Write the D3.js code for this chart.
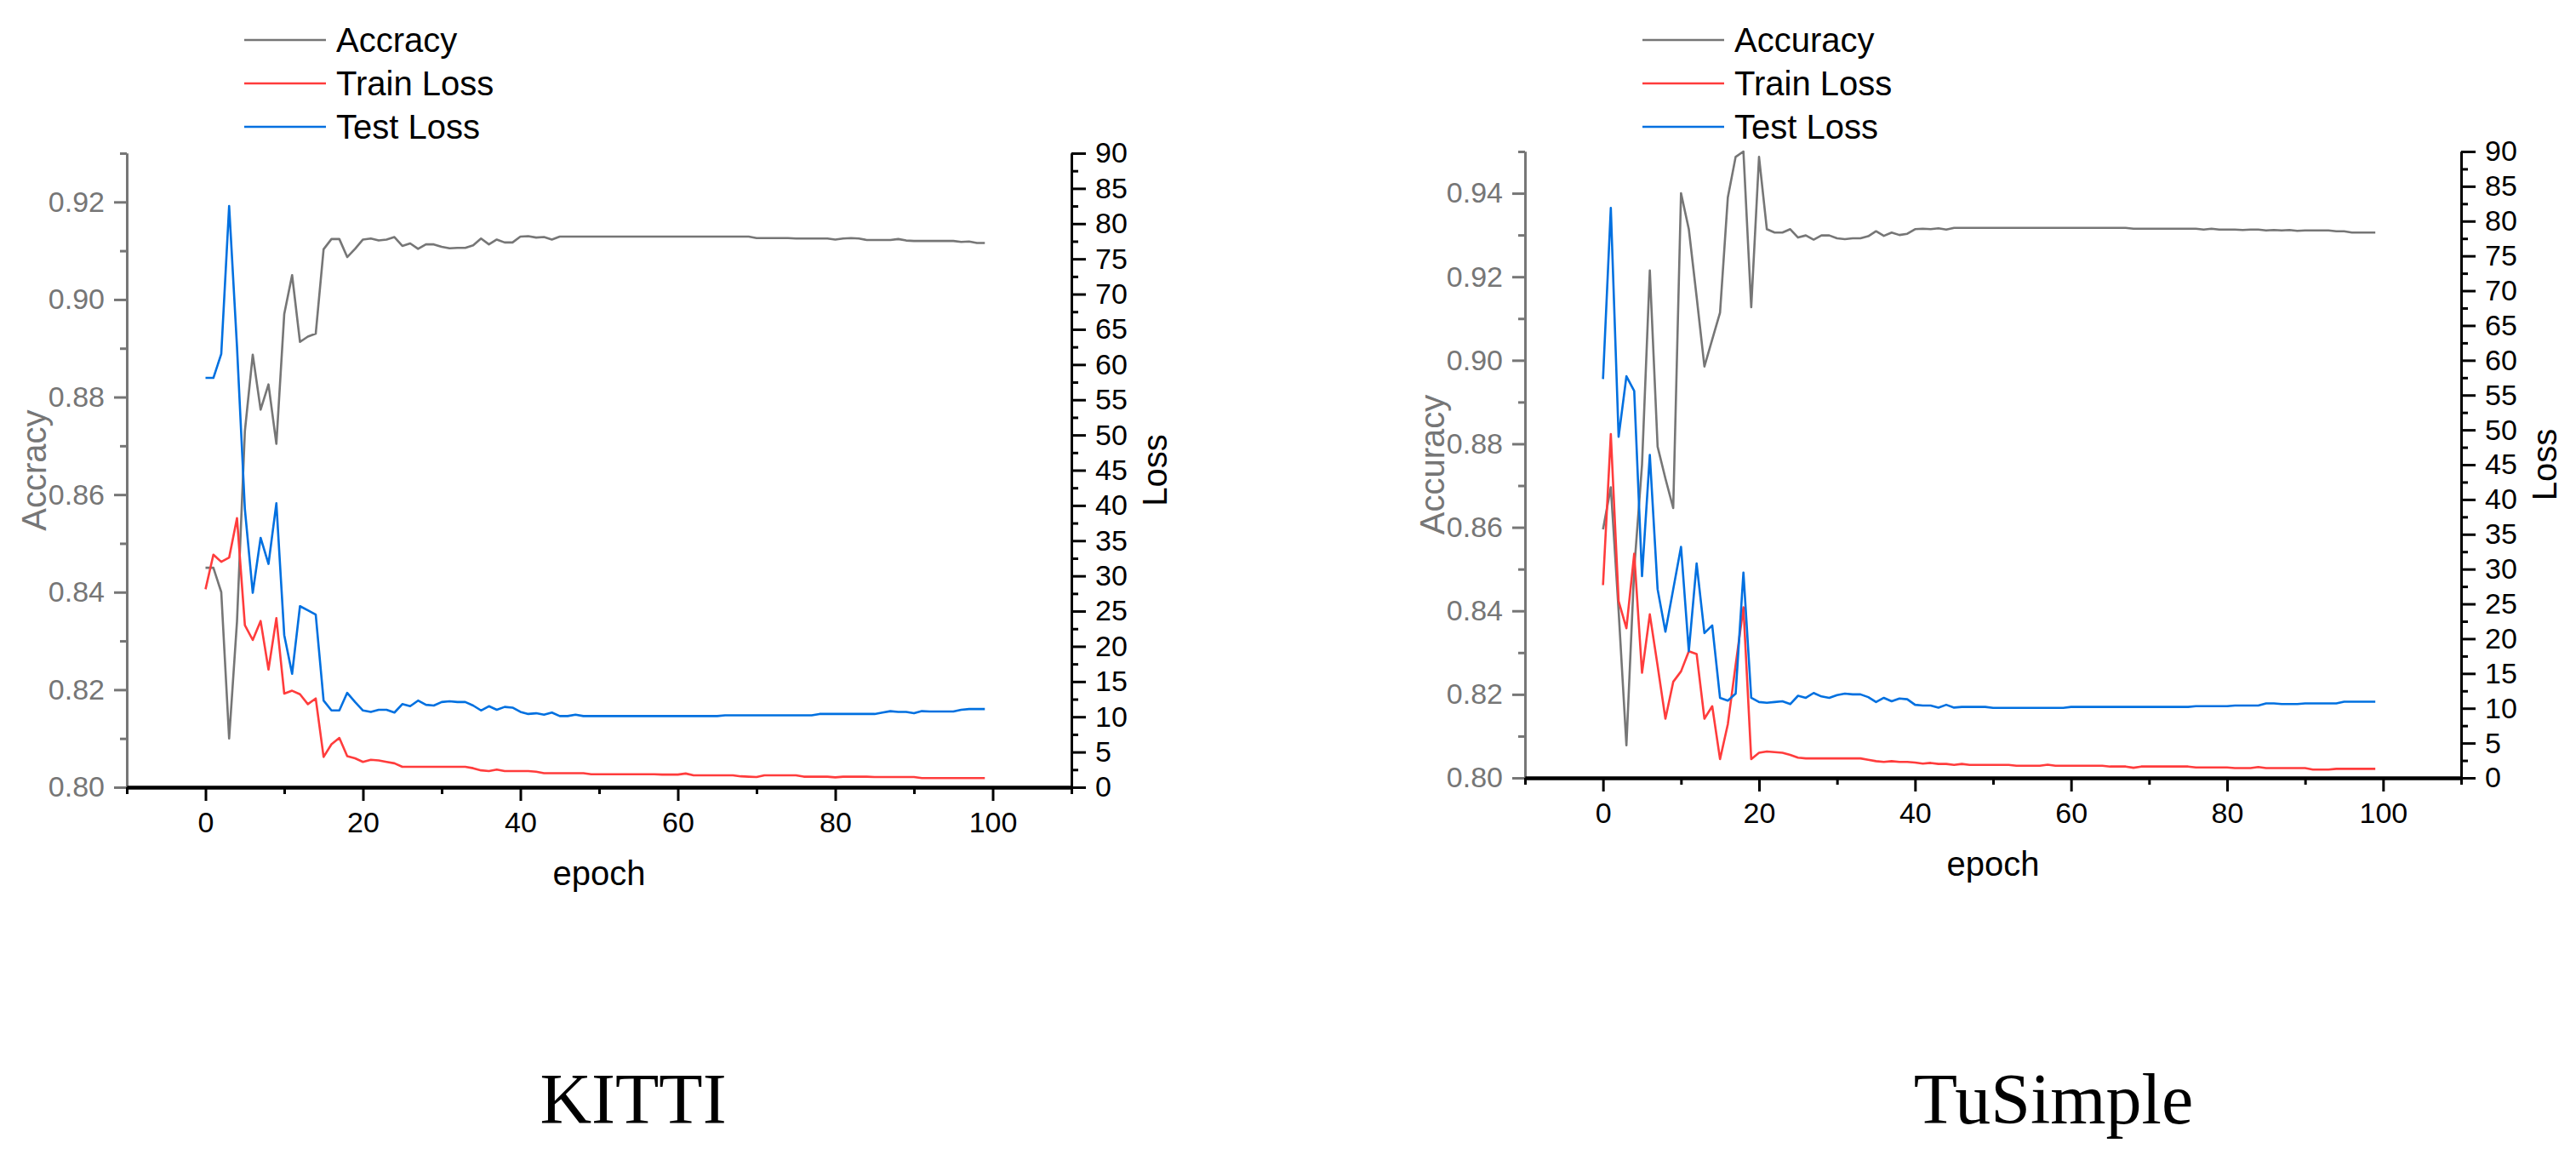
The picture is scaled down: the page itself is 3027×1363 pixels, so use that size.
<!DOCTYPE html>
<html>
<head>
<meta charset="utf-8">
<script src="https://cdn.jsdelivr.net/npm/d3@7"></script>
<style>
  html, body { margin: 0; padding: 0; background: #ffffff; }
  svg { display: block; }
</style>
</head>
<body>
<div id="chart"></div>
<script>
// ---------------- DATA ----------------
const epochs = d3.range(0, 100);

const kittiAccuracy = [
  0.845,0.845,0.840,0.810,0.834,0.873,0.8887,0.8774,0.8826,0.8704,
  0.897,0.905,0.8913,0.8924,0.893,0.9103,0.9124,0.9124,0.9087,0.9104,
  0.9123,0.9125,0.9121,0.9123,0.9128,0.9110,0.9115,0.9104,0.9113,0.9113,
  0.9108,0.9105,0.9106,0.9106,0.9111,0.9125,0.9113,0.9123,0.9117,0.9117,
  0.9129,0.9130,0.9127,0.9128,0.9123,0.9129,0.9129,0.9129,0.9129,0.9129,
  0.9129,0.9129,0.9129,0.9129,0.9129,0.9129,0.9129,0.9129,0.9129,0.9129,
  0.9129,0.9129,0.9129,0.9129,0.9129,0.9129,0.9129,0.9129,0.9129,0.9129,
  0.9126,0.9126,0.9126,0.9126,0.9126,0.9125,0.9125,0.9125,0.9125,0.9125,
  0.9123,0.9125,0.9126,0.9125,0.9122,0.9122,0.9122,0.9122,0.9124,0.9121,
  0.9120,0.9120,0.9120,0.9120,0.9120,0.9120,0.9118,0.9119,0.9116,0.9116
];
const kittiTrainLoss = [
  28.1,33.0,32.0,32.6,38.2,23.0,20.9,23.6,16.7,24.0,
  13.3,13.7,13.2,11.8,12.6,4.3,6.1,7.0,4.4,4.1,
  3.6,3.9,3.8,3.6,3.4,2.9,2.9,2.9,2.9,2.9,
  2.9,2.9,2.9,2.9,2.7,2.4,2.3,2.5,2.3,2.3,
  2.3,2.3,2.2,2.0,2.0,2.0,2.0,2.0,2.0,1.85,
  1.85,1.85,1.85,1.85,1.85,1.85,1.85,1.85,1.8,1.8,
  1.8,1.95,1.7,1.7,1.7,1.7,1.7,1.7,1.55,1.5,
  1.45,1.7,1.7,1.7,1.7,1.7,1.5,1.5,1.5,1.5,
  1.4,1.5,1.5,1.5,1.5,1.45,1.45,1.45,1.45,1.45,
  1.45,1.3,1.3,1.3,1.3,1.3,1.3,1.3,1.3,1.3
];
const kittiTestLoss = [
  58.1,58.1,61.5,82.5,62.5,39.5,27.6,35.4,31.7,40.3,
  21.6,16.1,25.7,25.1,24.5,12.3,10.9,10.9,13.4,12.1,
  10.9,10.7,11.0,11.0,10.6,11.8,11.5,12.3,11.7,11.6,
  12.1,12.2,12.1,12.1,11.6,10.9,11.5,11.0,11.4,11.3,
  10.7,10.4,10.5,10.3,10.6,10.1,10.1,10.3,10.1,10.1,
  10.1,10.1,10.1,10.1,10.1,10.1,10.1,10.1,10.1,10.1,
  10.1,10.1,10.1,10.1,10.1,10.1,10.2,10.2,10.2,10.2,
  10.2,10.2,10.2,10.2,10.2,10.2,10.2,10.2,10.4,10.4,
  10.4,10.4,10.4,10.4,10.4,10.4,10.6,10.8,10.7,10.7,
  10.5,10.8,10.75,10.75,10.75,10.75,11.0,11.1,11.1,11.1
];

const tusimpleAccuracy = [
  0.8595,0.8696,0.840,0.8078,0.850,0.875,0.9215,0.8793,0.8717,0.8646,
  0.940,0.9314,0.9152,0.8985,0.905,0.9114,0.939,0.9487,0.950,0.9127,
  0.9487,0.9314,0.9306,0.9306,0.9314,0.9294,0.9299,0.9289,0.9299,0.9299,
  0.9292,0.9290,0.9292,0.9292,0.9297,0.9309,0.9298,0.9306,0.9300,0.9303,
  0.9314,0.9315,0.9314,0.9316,0.9313,0.9317,0.9317,0.9317,0.9317,0.9317,
  0.9317,0.9317,0.9317,0.9317,0.9317,0.9317,0.9317,0.9317,0.9317,0.9317,
  0.9317,0.9317,0.9317,0.9317,0.9317,0.9317,0.9317,0.9317,0.9315,0.9315,
  0.9315,0.9315,0.9315,0.9315,0.9315,0.9315,0.9315,0.9313,0.9315,0.9313,
  0.9313,0.9313,0.9312,0.9313,0.9313,0.9311,0.9312,0.9311,0.9312,0.9310,
  0.9311,0.9311,0.9311,0.9311,0.9309,0.9309,0.9306,0.9306,0.9306,0.9306
];
const tusimpleTrainLoss = [
  27.7,49.4,25.4,21.5,32.2,15.1,23.5,16.1,8.5,13.8,
  15.3,18.2,17.8,8.5,10.3,2.7,7.7,16.2,24.5,2.7,
  3.6,3.8,3.7,3.6,3.3,2.9,2.8,2.8,2.8,2.8,
  2.8,2.8,2.8,2.8,2.6,2.4,2.3,2.4,2.3,2.3,
  2.2,2.05,2.15,2.0,2.0,1.87,2.0,1.87,1.87,1.87,
  1.87,1.87,1.87,1.75,1.75,1.75,1.75,1.9,1.75,1.75,
  1.75,1.75,1.75,1.75,1.75,1.63,1.63,1.63,1.45,1.63,
  1.63,1.63,1.63,1.63,1.63,1.63,1.5,1.5,1.5,1.5,
  1.5,1.4,1.4,1.4,1.55,1.4,1.4,1.4,1.4,1.4,
  1.4,1.2,1.2,1.2,1.3,1.3,1.3,1.3,1.3,1.3
];
const tusimpleTestLoss = [
  57.3,81.9,49.0,57.7,55.6,29.0,46.4,27.1,21.0,27.1,
  33.2,18.2,30.8,20.8,21.9,11.5,11.1,12.1,29.5,11.5,
  10.9,10.8,10.9,11.0,10.6,11.8,11.5,12.2,11.7,11.5,
  11.9,12.1,12.0,12.0,11.6,10.9,11.5,11.0,11.4,11.3,
  10.5,10.4,10.4,10.1,10.5,10.1,10.2,10.2,10.2,10.2,
  10.05,10.05,10.05,10.05,10.05,10.05,10.05,10.05,10.05,10.05,
  10.2,10.2,10.2,10.2,10.2,10.2,10.2,10.2,10.2,10.2,
  10.2,10.2,10.2,10.2,10.2,10.2,10.3,10.3,10.3,10.3,
  10.3,10.4,10.4,10.4,10.4,10.7,10.7,10.6,10.6,10.6,
  10.7,10.7,10.7,10.7,10.7,10.95,10.95,10.95,10.95,10.95
];

// tick values
const xMajorTicks = [0, 20, 40, 60, 80, 100];
const xMinorTicks = [-10, 10, 30, 50, 70, 90, 110];
const lossMajorTicks = [0,5,10,15,20,25,30,35,40,45,50,55,60,65,70,75,80,85,90];
const lossMinorTicks = [2.5,7.5,12.5,17.5,22.5,27.5,32.5,37.5,42.5,47.5,52.5,57.5,62.5,67.5,72.5,77.5,82.5,87.5];
const kittiAccMajorTicks = [0.80,0.82,0.84,0.86,0.88,0.90,0.92];
const kittiAccMinorTicks = [0.81,0.83,0.85,0.87,0.89,0.91,0.93];
const tusimpleAccMajorTicks = [0.80,0.82,0.84,0.86,0.88,0.90,0.92,0.94];
const tusimpleAccMinorTicks = [0.81,0.83,0.85,0.87,0.89,0.91,0.93,0.95];

const seriesNamesKitti = ["Accracy", "Train Loss", "Test Loss"];
const seriesNamesTusimple = ["Accuracy", "Train Loss", "Test Loss"];

// ---------------- DRAWING ----------------
const W = 3027, H = 1363;
const GRAY = "#767676", RED = "#ff3c3c", BLUE = "#0070e0";
const SANS = "'Liberation Sans', Arial, sans-serif";
const SERIF = "'Liberation Serif', 'Times New Roman', serif";

const svg = d3.select("#chart").append("svg")
  .attr("width", W).attr("height", H)
  .attr("viewBox", `0 0 ${W} ${H}`);
svg.append("rect").attr("width", W).attr("height", H).attr("fill", "#fff");

function styleAxis(sel, color, width, fontSize) {
  sel.select(".domain").attr("stroke", color).attr("stroke-width", width);
  sel.selectAll(".tick line").attr("stroke", color).attr("stroke-width", width);
  sel.selectAll(".tick text")
    .attr("fill", color)
    .style("font-family", SANS)
    .style("font-size", fontSize + "px");
}

function drawPanel(cfg) {
  const g = svg.append("g");
  const x = d3.scaleLinear().domain([-10, 110]).range([cfg.left, cfg.right]);
  const yA = d3.scaleLinear().domain(cfg.accDomain).range([cfg.bottom, cfg.top]);
  const yL = d3.scaleLinear().domain([0, 90]).range([cfg.bottom, cfg.top]);

  // left accuracy axis (gray)
  const la = g.append("g").attr("transform", `translate(${cfg.left},0)`)
    .call(d3.axisLeft(yA).tickValues(cfg.accMajor).tickSize(15).tickSizeOuter(0)
      .tickPadding(11).tickFormat(d3.format(".2f")));
  styleAxis(la, GRAY, 3, 34);
  const lam = g.append("g").attr("transform", `translate(${cfg.left},0)`)
    .call(d3.axisLeft(yA).tickValues(cfg.accMinor).tickSize(8).tickSizeOuter(0).tickFormat(""));
  styleAxis(lam, GRAY, 3, 34);

  // right loss axis (black)
  const ra = g.append("g").attr("transform", `translate(${cfg.right},0)`)
    .call(d3.axisRight(yL).tickValues(lossMajorTicks).tickSize(17).tickSizeOuter(0)
      .tickPadding(11).tickFormat(d3.format("d")));
  styleAxis(ra, "#000", 3, 34);
  const ram = g.append("g").attr("transform", `translate(${cfg.right},0)`)
    .call(d3.axisRight(yL).tickValues(lossMinorTicks).tickSize(8).tickSizeOuter(0).tickFormat(""));
  styleAxis(ram, "#000", 3, 34);

  // bottom epoch axis (black)
  const ba = g.append("g").attr("transform", `translate(0,${cfg.bottom})`)
    .call(d3.axisBottom(x).tickValues(xMajorTicks).tickSize(16).tickSizeOuter(0)
      .tickPadding(13).tickFormat(d3.format("d")));
  styleAxis(ba, "#000", 3, 34);
  ba.select(".domain").attr("stroke-width", 4);
  const bam = g.append("g").attr("transform", `translate(0,${cfg.bottom})`)
    .call(d3.axisBottom(x).tickValues(xMinorTicks).tickSize(8).tickSizeOuter(0).tickFormat(""));
  styleAxis(bam, "#000", 3, 34);
  bam.select(".domain").attr("stroke-width", 4);

  // data lines
  const accLine = d3.line().x((d, i) => x(epochs[i])).y(d => yA(d));
  const lossLine = d3.line().x((d, i) => x(epochs[i])).y(d => yL(d));
  g.append("path").datum(cfg.acc).attr("d", accLine)
    .attr("fill", "none").attr("stroke", GRAY).attr("stroke-width", 2.6).attr("stroke-linejoin", "round");
  g.append("path").datum(cfg.train).attr("d", lossLine)
    .attr("fill", "none").attr("stroke", RED).attr("stroke-width", 2.6).attr("stroke-linejoin", "round");
  g.append("path").datum(cfg.test).attr("d", lossLine)
    .attr("fill", "none").attr("stroke", BLUE).attr("stroke-width", 2.6).attr("stroke-linejoin", "round");

  // axis titles
  const cy = (cfg.top + cfg.bottom) / 2;
  g.append("text")
    .attr("transform", `translate(${cfg.left - 95},${cy}) rotate(-90)`)
    .attr("text-anchor", "middle").attr("fill", GRAY)
    .style("font-family", SANS).style("font-size", "40px")
    .text(cfg.accTitle);
  g.append("text")
    .attr("transform", `translate(${cfg.right + 112},${cy}) rotate(-90)`)
    .attr("text-anchor", "middle").attr("fill", "#000")
    .style("font-family", SANS).style("font-size", "40px")
    .text("Loss");
  g.append("text")
    .attr("x", (cfg.left + cfg.right) / 2).attr("y", cfg.bottom + 115)
    .attr("text-anchor", "middle").attr("fill", "#000")
    .style("font-family", SANS).style("font-size", "40px")
    .text("epoch");

  // legend
  const colors = [GRAY, RED, BLUE];
  const rowsY = [47, 98, 149];
  cfg.names.forEach((name, i) => {
    g.append("line")
      .attr("x1", cfg.left + 138).attr("x2", cfg.left + 234)
      .attr("y1", rowsY[i]).attr("y2", rowsY[i])
      .attr("stroke", colors[i]).attr("stroke-width", 2.6);
    g.append("text")
      .attr("x", cfg.left + 246).attr("y", rowsY[i] + 14)
      .attr("fill", "#000")
      .style("font-family", SANS).style("font-size", "40px")
      .text(name);
  });

  // panel caption
  g.append("text")
    .attr("x", cfg.captionX).attr("y", 1320)
    .attr("text-anchor", "middle").attr("fill", "#000")
    .style("font-family", SERIF).style("font-size", "84px")
    .text(cfg.caption);
}

drawPanel({
  left: 149, right: 1259, top: 180, bottom: 925,
  accDomain: [0.80, 0.93], accMajor: kittiAccMajorTicks, accMinor: kittiAccMinorTicks,
  acc: kittiAccuracy, train: kittiTrainLoss, test: kittiTestLoss,
  accTitle: "Accracy", names: seriesNamesKitti,
  caption: "KITTI", captionX: 744
});
drawPanel({
  left: 1792, right: 2892, top: 178, bottom: 914,
  accDomain: [0.80, 0.95], accMajor: tusimpleAccMajorTicks, accMinor: tusimpleAccMinorTicks,
  acc: tusimpleAccuracy, train: tusimpleTrainLoss, test: tusimpleTestLoss,
  accTitle: "Accuracy", names: seriesNamesTusimple,
  caption: "TuSimple", captionX: 2413
});
</script>
</body>
</html>
